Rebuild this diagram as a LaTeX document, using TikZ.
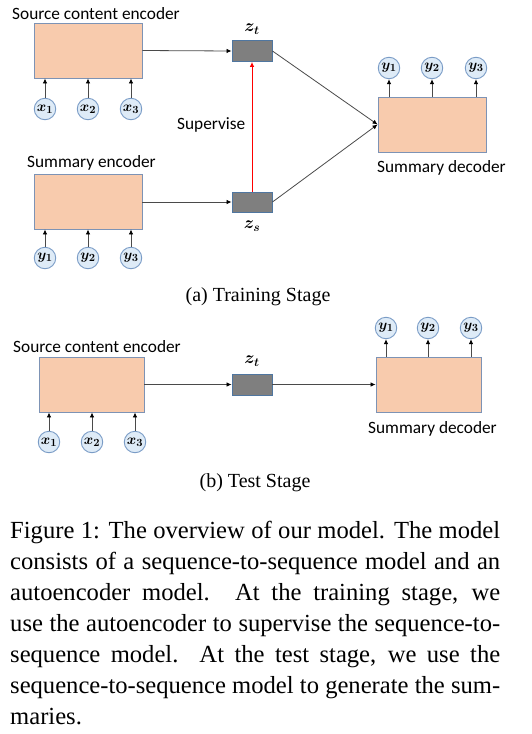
\documentclass[tikz,border=0pt]{standalone}
\usepackage{amsmath,bm}
\usepackage{fontspec}
\setmainfont{Liberation Serif}
\newfontfamily\calfont{Carlito}
\usetikzlibrary{arrows.meta}
\definecolor{peach}{HTML}{F8CBAD}
\definecolor{boxborder}{HTML}{7D93B5}
\definecolor{circfill}{HTML}{DEEBF7}
\definecolor{circborder}{HTML}{7A9CC6}
\definecolor{zfill}{HTML}{7F7F7F}
\definecolor{zborder}{HTML}{4F76A0}
\definecolor{linecol}{HTML}{4A4A4A}
\tikzset{
  encbox/.style={draw=boxborder, fill=peach, line width=0.9pt, inner sep=0pt, minimum height=55pt},
  zbox/.style={draw=zborder, fill=zfill, line width=0.9pt, inner sep=0pt, minimum width=40pt, minimum height=21pt},
  tok/.style={circle, draw=circborder, fill=circfill, line width=0.9pt, inner sep=0pt, minimum size=21.5pt, font=\fontsize{15}{16}\selectfont},
  arr/.style={-{Latex[length=5pt,width=4.5pt,color=black]}, line width=0.8pt, linecol},
  redarr/.style={-{Latex[length=5pt,width=4.5pt]}, line width=0.8pt, red},
  lbl/.style={inner sep=0pt, font=\calfont\fontsize{17.3}{20}\selectfont},
  zlbl/.style={inner sep=0pt, font=\fontsize{18}{20}\selectfont},
  subcap/.style={inner sep=0pt, font=\fontsize{20}{24}\selectfont},
}
\begin{document}
\begin{tikzpicture}[x=1pt,y=-1pt]
\useasboundingbox (0,0) rectangle (531,734);
% ---------- (a) Training stage ----------
\node[lbl, anchor=base west] (srclbl) at (12,19) {Source content encoder};
\node[encbox, minimum width=108pt] (enc) at (88,50.5) {};
\node[zbox] (zt) at (252,51) {};
\node[zlbl] (ztlbl) at (252,29) {$\bm{z_t}$};
\node[tok] (x1) at (45,109) {$\bm{x_1}$};
\node[tok] (x2) at (88,109) {$\bm{x_2}$};
\node[tok] (x3) at (131,109) {$\bm{x_3}$};
\foreach \n in {x1,x2,x3} \draw[arr] (\n) -- (\n |- enc.south);
\draw[arr] (enc.east) -- (zt.west);

\node[lbl, anchor=base west] (suplbl) at (177,129) {Supervise};

\node[lbl, anchor=base west] (sumenclbl) at (27,167) {Summary encoder};
\node[encbox, minimum width=108pt] (senc) at (88,201.5) {};
\node[zbox, minimum height=20pt] (zs) at (252,202) {};
\node[zlbl] (zslbl) at (252,226) {$\bm{z_s}$};
\node[tok] (sy1) at (45,258) {$\bm{y_1}$};
\node[tok] (sy2) at (88,258) {$\bm{y_2}$};
\node[tok] (sy3) at (131,258) {$\bm{y_3}$};
\foreach \n in {sy1,sy2,sy3} \draw[arr] (\n) -- (\n |- senc.south);
\draw[arr] (senc.east |- zs.west) -- (zs.west);
\draw[redarr] (zs.north) -- (zt.south);

\node[encbox, minimum width=108pt] (dec) at (432,124.5) {};
\node[lbl, anchor=base west] (declbl) at (377,172) {Summary decoder};
\node[tok] (dy1) at (389,68) {$\bm{y_1}$};
\node[tok] (dy2) at (432,68) {$\bm{y_2}$};
\node[tok] (dy3) at (476,68) {$\bm{y_3}$};
\foreach \n in {dy1,dy2,dy3} \draw[arr] (dec.north -| \n) -- (\n);
\draw[arr] (zt.east) -- (dec.west);
\draw[arr] (zs.east) -- (dec.west);

\node[subcap, anchor=base] (capa) at (258,301) {(a) Training Stage};

% ---------- (b) Test stage ----------
\node[lbl, anchor=base west] (tsrclbl) at (13,352) {Source content encoder};
\node[encbox, minimum width=105pt] (tenc) at (91.5,384.5) {};
\node[zbox] (tzt) at (252,384.5) {};
\node[zlbl] (tztlbl) at (252,361) {$\bm{z_t}$};
\node[encbox, minimum width=105pt] (tdec) at (428.5,384.5) {};
\node[lbl, anchor=base west] (tdeclbl) at (368,433) {Summary decoder};
\node[tok] (tx1) at (49,442) {$\bm{x_1}$};
\node[tok] (tx2) at (92,442) {$\bm{x_2}$};
\node[tok] (tx3) at (135,442) {$\bm{x_3}$};
\foreach \n in {tx1,tx2,tx3} \draw[arr] (\n) -- (\n |- tenc.south);
\node[tok] (ty1) at (386,328) {$\bm{y_1}$};
\node[tok] (ty2) at (428,328) {$\bm{y_2}$};
\node[tok] (ty3) at (471,328) {$\bm{y_3}$};
\foreach \n in {ty1,ty2,ty3} \draw[arr] (tdec.north -| \n) -- (\n);
\draw[arr] (tenc.east) -- (tzt.west);
\draw[arr] (tzt.east) -- (tdec.west);

\node[subcap, anchor=base] (capb) at (255,487) {(b) Test Stage};

% ---------- caption ----------
\node[anchor=base west, inner sep=0pt] (caption) at (10,538) {\parbox[t]{490pt}{\fontsize{24.6}{31}\selectfont\parindent=0pt\tolerance=9999\emergencystretch=20pt
Figure 1: The overview of our model. The model\linebreak
consists of a sequence-to-sequence model and an\linebreak
autoencoder model.  At the training stage, we\linebreak
use the autoencoder to supervise the sequence-to-\linebreak
sequence model.  At the test stage, we use the\linebreak
sequence-to-sequence model to generate the sum-\linebreak
maries.}};
\end{tikzpicture}
\end{document}
